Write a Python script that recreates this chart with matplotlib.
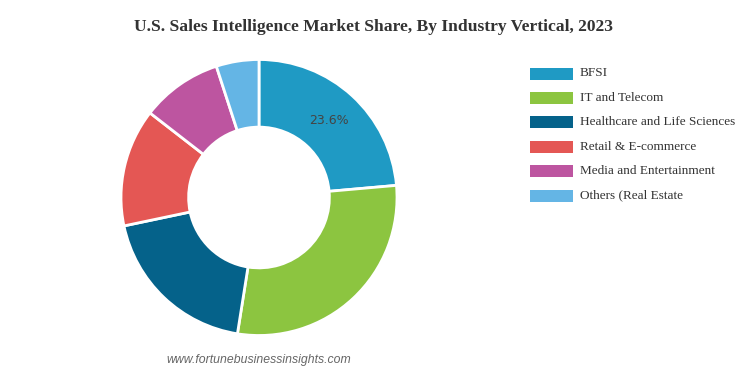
import numpy as np
import matplotlib
matplotlib.use("Agg")
import matplotlib.pyplot as plt
from matplotlib.patches import Rectangle

# data
labels = ["BFSI", "IT and Telecom", "Healthcare and Life Sciences",
          "Retail & E-commerce", "Media and Entertainment", "Others (Real Estate"]
shares = [23.6, 28.9, 19.2, 13.8, 9.5, 5.0]
colors = ["#1f9ac4", "#8cc540", "#05628a", "#e45754", "#bd55a0", "#64b5e5"]
shown_label = "23.6%"

W, H = 745, 372
fig = plt.figure(figsize=(W / 100, H / 100), dpi=100)

# pie axes: centre (259, 197.5) px, radius 138 px
cx, cy, r = 259, 197.5, 138
ax = fig.add_axes([(cx - r) / W, 1 - (cy + r) / H, 2 * r / W, 2 * r / H])
wedges, _ = ax.pie(shares, colors=colors, startangle=90, counterclock=False,
                   radius=1.0, wedgeprops=dict(width=0.49, edgecolor="white", linewidth=2))
ax.set_xlim(-1, 1)
ax.set_ylim(-1, 1)
ax.set_aspect("equal")
ax.axis("off")

# percentage label on the first slice
w = wedges[0]
mid = np.deg2rad((w.theta1 + w.theta2) / 2)
rr = 0.755
ax.text(rr * np.cos(mid), rr * np.sin(mid), shown_label, ha="center", va="center",
        fontsize=9, color="#444444", family="DejaVu Sans")

fig.text(374 / W, 1 - 27 / H, "U.S. Sales Intelligence Market Share, By Industry Vertical, 2023",
         ha="center", va="center", fontsize=12.6, fontweight="bold",
         family="Liberation Serif", color="#333333")

# legend drawn by hand to match placement
y0, dy = 73.5, 24.4
for i, (lab, col) in enumerate(zip(labels, colors)):
    y = y0 + i * dy
    fig.patches.append(Rectangle((530 / W, 1 - (y + 6) / H), 43 / W, 12 / H,
                                 transform=fig.transFigure, facecolor=col, edgecolor="none"))
    fig.text(580 / W, 1 - y / H, lab, ha="left", va="center", fontsize=9.5,
             family="Liberation Serif", color="#333333")

fig.text(259 / W, 1 - 360 / H, "www.fortunebusinessinsights.com", ha="center", va="center",
         fontsize=8.8, style="italic", family="Liberation Sans", color="#666666")

fig.savefig("out.png", dpi=100, facecolor="white")
